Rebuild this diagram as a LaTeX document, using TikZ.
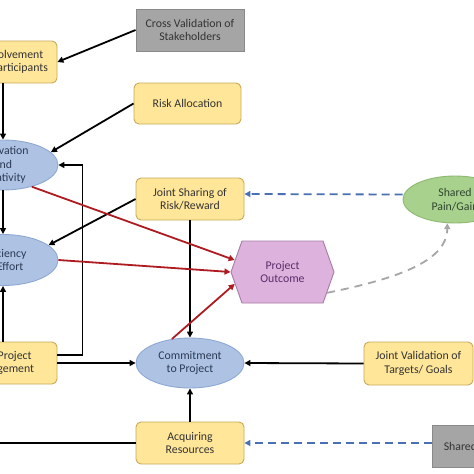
\documentclass[tikz,border=0pt]{standalone}
\usepackage{fontspec}
\setmainfont{Carlito}
\usetikzlibrary{arrows.meta,shapes.geometric,shapes.symbols}
\definecolor{yfill}{HTML}{FFE699}
\definecolor{ydraw}{HTML}{C9A955}
\definecolor{gfill}{HTML}{A5A5A5}
\definecolor{gdraw}{HTML}{8A8A8A}
\definecolor{bfill}{HTML}{AEC3E4}
\definecolor{bdraw}{HTML}{8EA8D4}
\definecolor{grfill}{HTML}{A9D18E}
\definecolor{grdraw}{HTML}{8DB870}
\definecolor{hfill}{HTML}{DDB2DD}
\definecolor{hdraw}{HTML}{A67CA6}
\definecolor{boxtext}{HTML}{333333}
\definecolor{btext}{HTML}{2B3A55}
\definecolor{htext}{HTML}{5A2D6A}
\definecolor{grtext}{HTML}{2E452E}
\definecolor{redline}{HTML}{AE1C22}
\definecolor{blueline}{HTML}{4A6FB3}
\definecolor{grayline}{HTML}{A6A6A6}
\begin{document}
\begin{tikzpicture}[x=1pt,y=-1pt,
  every node/.style={font=\fontsize{11.8}{13.5}\selectfont, align=center, inner sep=1pt},
  ybox/.style={rectangle, rounded corners=5pt, fill=yfill, draw=ydraw, line width=0.9pt, minimum width=108pt, minimum height=42pt, text=boxtext},
  gbox/.style={rectangle, fill=gfill, draw=gdraw, line width=0.9pt, minimum width=108pt, minimum height=42pt, text=boxtext},
  bell/.style={ellipse, fill=bfill, draw=bdraw, line width=0.9pt, minimum width=108pt, minimum height=50pt, inner sep=0pt},
  btxt/.style={text=btext},
  arr/.style={line width=1.8pt, -{Triangle[length=6pt,width=6pt]}},
  plain/.style={line width=1.8pt},
  redarr/.style={line width=1.8pt, redline, -{Triangle[length=6pt,width=6pt]}},
  bluedash/.style={line width=1.8pt, blueline, dash pattern=on 8pt off 5pt, -{Triangle[length=6pt,width=6pt]}},
  graydash/.style={line width=1.8pt, grayline, dash pattern=on 8pt off 6pt, -{Triangle[length=6pt,width=6pt]}}
]
\useasboundingbox (0,0) rectangle (474,474);
\fill[white] (0,0) rectangle (474,474);
\begin{scope}
\clip (0,0) rectangle (474,474);
% nodes
\node[gbox] (cv) at (190,30) {Cross Validation of\\Stakeholders};
\node[ybox, minimum width=87pt] (inv) at (13.5,62) {Involvement\\of Participants};
\node[ybox, minimum width=107pt, minimum height=41pt] (ra) at (187.5,103.5) {Risk Allocation};
\node[bell, minimum width=110pt] (inno) at (3,165) {};
\node[btxt] (innot) at (inno) {Innovation\\and\\Creativity};
\node[ybox] (js) at (190,199) {Joint Sharing of\\Risk/Reward};
\node[ellipse, fill=grfill, draw=grdraw, line width=0.9pt, minimum width=104pt, minimum height=47pt, inner sep=0pt] (sp) at (455,199.5) {};
\node[text=grtext] (spt) at (sp) {Shared\\Pain/Gain};
\node[bell, minimum width=110pt, minimum height=51pt] (eff) at (3,260) {};
\node[btxt] (efft) at (4,260) {Efficiency\\of Effort};
\node[signal, signal to=west and east, signal pointer angle=141, fill=hfill, draw=hdraw, line width=0.9pt, minimum width=103pt, minimum height=62pt, text=htext] (out) at (282.5,272) {Project\\Outcome};
\node[ybox, minimum width=110pt] (pm) at (2,363) {Lean Project\\Management};
\node[bell, minimum width=108pt, minimum height=50pt] (cm) at (190,363) {};
\node[btxt] (cmt) at (cm) {Commitment\\to Project};
\node[ybox, minimum width=109pt, minimum height=43pt] (jv) at (418.5,363.5) {Joint Validation of\\Targets/ Goals};
\node[ybox] (aq) at (190,443) {Acquiring\\Resources};
\node[gbox] (sh) at (486,446) {Shared Resources};
\coordinate (aqleft) at (-20,443);
% black connectors
\draw[arr] (cv.west) -- (inv.east);
\draw[arr] (ra.west) -- (inno.15);
\draw[arr] (inv.south -| inno.north) -- (inno.north);
\draw[arr] (inno.south) -- (eff.north);
\draw[arr] (pm.north -| eff.south) -- (eff.south);
\draw[arr] ([yshift=8pt]pm.east) -- ++(25,0) |- (inno.east);
\draw[arr] (pm.east) -- (cm.west);
\draw[arr] (js.west) -- (eff.18);
\draw[arr] (js.south) -- (cm.north);
\draw[arr] (aq.north) -- (cm.south);
\draw[plain] (aq.west) -- (aqleft);
\draw[arr] (jv.west) -- (cm.east);
% dashed
\draw[bluedash] ([yshift=5pt]sp.west) -- ([yshift=5pt]js.east);
\draw[bluedash] (sh.west |- aq.east) -- (aq.east);
\draw[graydash] (out.-25) .. controls (395,279) and (447,262) .. (sp.252);
% red
\draw[redarr] (inno.-37) -- (out.166);
\draw[redarr] (eff.east) -- (out.west);
\draw[redarr] (cm.127) -- (out.194);
\end{scope}
\end{tikzpicture}
\end{document}
